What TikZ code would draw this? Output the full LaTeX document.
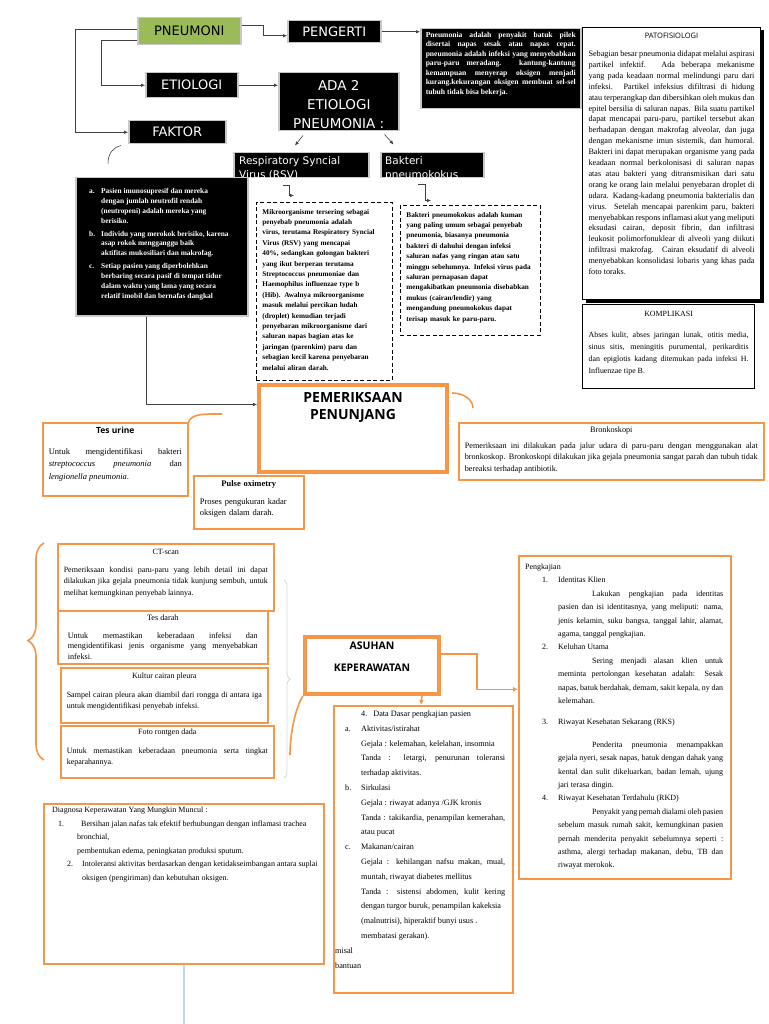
\documentclass[tikz,border=0pt]{standalone}
\usepackage{fontspec}
\setmainfont{Liberation Serif}
\newfontfamily\boxfont{DejaVu Sans}
\newfontfamily\headfont{Open Sans}
\usetikzlibrary{arrows.meta,shadows,decorations.pathreplacing}
\definecolor{leafgreen}{HTML}{9BBB59}
\definecolor{accentorange}{HTML}{F79646}
\definecolor{rimgray}{HTML}{C8C8C8}
\hyphenpenalty=10000
\exhyphenpenalty=10000
\emergencystretch=20pt

\tikzset{
  darkbox/.style={fill=black, text=white, draw=rimgray, line width=1.5pt, inner sep=0pt,
    font=\boxfont\fontsize{13}{18}\selectfont},
  orangebox/.style={draw=accentorange, line width=1.6pt, fill=white, inner sep=0pt},
  heavyorange/.style={draw=accentorange, line width=4pt, fill=white, inner sep=0pt},
  dashbox/.style={draw=black, dash pattern=on 4pt off 2.5pt, line width=0.9pt, fill=white, inner sep=0pt},
  teks/.style={inner sep=0pt, anchor=north},
  link/.style={draw=black!75, line width=0.6pt, -{Latex[length=4pt,width=3.5pt]}},
  orangelink/.style={draw=accentorange, line width=1.6pt, -{Latex[length=5pt,width=5pt]}},
  orangecurve/.style={draw=accentorange, line width=1.6pt},
}

\begin{document}
\begin{tikzpicture}[x=1pt,y=-1pt]
\useasboundingbox (0,0) rectangle (768,1024);
\fill[white] (0,0) rectangle (768,1024);

% kotak judul
\node[darkbox, fill=leafgreen, text=black, minimum width=103, minimum height=27, anchor=north west] (pneumoni) at (137,17) {PNEUMONI};
\node[darkbox, minimum width=93, minimum height=22, anchor=north west] (pengerti) at (287,20) {PENGERTI};
\node[darkbox, minimum width=92, minimum height=25, anchor=north west] (etiologi) at (145,72) {ETIOLOGI};
\node[darkbox, minimum width=97, minimum height=23, anchor=north west] (faktor) at (128,120) {FAKTOR};
\node[darkbox, minimum width=120, minimum height=58, anchor=north west] (duaetiologi) at (278,72) {};
\node[darkbox, minimum width=135, minimum height=25, anchor=north west] (rsv) at (233,152) {};
\node[darkbox, minimum width=103, minimum height=25, anchor=north west] (bakteri) at (380,152) {};
\begin{scope}
\clip (duaetiologi.south west) rectangle (duaetiologi.north east);
\node[teks, align=center, text=white, font=\boxfont\fontsize{13.5}{19}\selectfont] (duaetiologiteks) at ([yshift=-8pt]duaetiologi.north) {ADA 2\\ETIOLOGI\\PNEUMONIA :};
\end{scope}
\begin{scope}
\clip (rsv.south west) rectangle (rsv.north east);
\node[teks, anchor=north west, align=left, text=white, font=\boxfont\fontsize{10.5}{14}\selectfont] (rsvjudul) at ([xshift=6pt,yshift=-4pt]rsv.north west) {Respiratory Syncial\\Virus (RSV)};
\end{scope}
\begin{scope}
\clip (bakteri.south west) rectangle (bakteri.north east);
\node[teks, anchor=north west, align=left, text=white, font=\boxfont\fontsize{10.5}{14}\selectfont] (bakterijudul) at ([xshift=5pt,yshift=-4pt]bakteri.north west) {Bakteri\\pneumokokus};
\end{scope}

% teks hitam
\node[darkbox, minimum width=160, minimum height=80, anchor=north west] (definisi) at (420,28) {};
\node[teks, text width=150, align=justify, text=white, font=\bfseries\fontsize{7.6}{9.5}\selectfont] (definisiteks) at ([yshift=-4pt]definisi.north) {Pneumonia adalah penyakit batuk pilek disertai napas sesak atau napas cepat. pneumonia adalah infeksi yang menyebabkan paru-paru meradang. kantung-kantung kemampuan menyerap oksigen menjadi kurang.kekurangan oksigen membuat sel-sel tubuh tidak bisa bekerja.};

\node[darkbox, minimum width=172, minimum height=138, anchor=north west] (faktorteks) at (75,177) {};
\begin{scope}
\clip (faktorteks.south west) rectangle (faktorteks.north east);
\node[teks, anchor=north west, align=left, text=white, font=\bfseries\fontsize{7.4}{9.9}\selectfont] (faktorisi) at ([xshift=14pt,yshift=-11pt]faktorteks.north west) {%
  \makebox[12pt][l]{a.}Pasien imunosupresif dan mereka\\
  \hspace*{12pt}dengan jumlah neutrofil rendah\\
  \hspace*{12pt}(neutropeni) adalah mereka yang\\
  \hspace*{12pt}berisiko.\\[3pt]
  \makebox[12pt][l]{b.}Individu yang merokok berisiko, karena\\
  \hspace*{12pt}asap rokok mengganggu baik\\
  \hspace*{12pt}aktifitas mukosiliari dan makrofag.\\[3pt]
  \makebox[12pt][l]{c.}Setiap pasien yang diperbolehkan\\
  \hspace*{12pt}berbaring secara pasif di tempat tidur\\
  \hspace*{12pt}dalam waktu yang lama yang secara\\
  \hspace*{12pt}relatif imobil dan bernafas dangkal};
\end{scope}

% patofisiologi
\node[draw=black, line width=1pt, fill=white, inner sep=0pt,
  drop shadow={shadow xshift=3pt, shadow yshift=-3pt, fill=black, opacity=1},
  minimum width=178, minimum height=272, anchor=north west] (patofisiologi) at (582,27) {};
\node[teks, text width=166, align=justify, font=\fontsize{8.2}{10.9}\selectfont] (patofisiologiteks) at ([yshift=-6pt]patofisiologi.north) {\makebox[\linewidth]{\headfont\fontsize{7.5}{9}\selectfont PATOFISIOLOGI}\\[7pt]Sebagian besar pneumonia didapat melalui aspirasi partikel infektif. Ada beberapa mekanisme yang pada keadaan normal melindungi paru dari infeksi. Partikel infeksius difiltrasi di hidung atau terperangkap dan dibersihkan oleh mukus dan epitel bersilia di saluran napas. Bila suatu partikel dapat mencapai paru-paru, partikel tersebut akan berhadapan dengan makrofag alveolar, dan juga dengan mekanisme imun sistemik, dan humoral. Bakteri ini dapat merupakan organisme yang pada keadaan normal berkolonisasi di saluran napas atas atau bakteri yang ditransmisikan dari satu orang ke orang lain melalui penyebaran droplet di udara. Kadang-kadang pneumonia bakterialis dan virus. Setelah mencapai parenkim paru, bakteri menyebabkan respons inflamasi akut yang meliputi eksudasi cairan, deposit fibrin, dan infiltrasi leukosit polimorfonuklear di alveoli yang diikuti infiltrasi makrofag. Cairan eksudatif di alveoli menyebabkan konsolidasi lobaris yang khas pada foto toraks.};
\node[draw=black, line width=1.2pt, fill=white, inner sep=0pt, minimum width=172, minimum height=84, anchor=north west] (komplikasi) at (582,304) {};
\node[teks, text width=160, align=justify, font=\fontsize{7.9}{12}\selectfont] (komplikasiteks) at ([yshift=-7pt]komplikasi.north) {\makebox[\linewidth]{KOMPLIKASI}\\[9pt]Abses kulit, abses jaringan lunak, otitis media, sinus sitis, meningitis purumental, perikarditis dan epiglotis kadang ditemukan pada infeksi H. Influenzae tipe B.};

% kotak putus-putus
\node[dashbox, minimum width=136, minimum height=178, anchor=north west] (rsvkotak) at (256,202) {};
\node[teks, text width=124, align=left, font=\bfseries\fontsize{7.2}{10.4}\selectfont] (rsvisi) at ([yshift=-7pt]rsvkotak.north) {Mikroorganisme tersering sebagai\\penyebab pneumonia adalah\\virus, terutama Respiratory Syncial\\Virus (RSV) yang mencapai\\40\%, sedangkan golongan bakteri\\yang ikut berperan terutama\\Streptococcus pneumoniae dan\\Haemophilus influenzae type b\\(Hib). Awalnya mikroorganisme\\masuk melalui percikan ludah\\(droplet) kemudian terjadi\\penyebaran mikroorganisme dari\\saluran napas bagian atas ke\\jaringan (parenkim) paru dan\\sebagian kecil karena penyebaran\\melalui aliran darah.};
\node[dashbox, minimum width=140, minimum height=130, anchor=north west] (bakterikotak) at (400,205) {};
\node[teks, text width=128, align=left, font=\bfseries\fontsize{7.2}{10.4}\selectfont] (bakteriisi) at ([yshift=-7pt]bakterikotak.north) {Bakteri pneumokokus adalah kuman\\yang paling umum sebagai penyebab\\pneumonia, biasanya pneumonia\\bakteri di dahului dengan infeksi\\saluran nafas yang ringan atau satu\\minggu sebelumnya. Infeksi virus pada\\saluran pernapasan dapat\\mengakibatkan pneumonia disebabkan\\mukus (cairan/lendir) yang\\mengandung pneumokokus dapat\\terisap masuk ke paru-paru.};

% pemeriksaan penunjang
\node[heavyorange, minimum width=188, minimum height=87, anchor=north west] (pemeriksaan) at (257,383) {};
\node[teks, align=center, font=\headfont\bfseries\fontsize{14}{17}\selectfont] (pemeriksaanjudul) at ([yshift=-9pt]pemeriksaan.north) {PEMERIKSAAN\\PENUNJANG};
\node[orangebox, minimum width=145, minimum height=73, anchor=north west] (tesurine) at (42,422) {};
\node[teks, text width=133, align=justify, font=\fontsize{8.5}{12.5}\selectfont] (tesurineteks) at ([yshift=-5pt]tesurine.north) {\makebox[\linewidth]{\headfont\bfseries\fontsize{8.5}{10}\selectfont Tes urine}\\[8pt]Untuk mengidentifikasi bakteri \textit{streptococcus pneumonia} dan \textit{lengionella pneumonia}.};
\node[orangebox, minimum width=110, minimum height=53, anchor=north west] (pulse) at (193,475) {};
\node[teks, text width=98, align=left, font=\fontsize{8.5}{11}\selectfont] (pulseteks) at ([yshift=-5pt]pulse.north) {\makebox[\linewidth]{\bfseries Pulse oximetry}\\[7pt]Proses pengukuran kadar\\oksigen dalam darah.};
\node[orangebox, minimum width=305, minimum height=57, anchor=north west] (bronkoskopi) at (458,422) {};
\node[teks, text width=293, align=justify, font=\fontsize{8.2}{11.5}\selectfont] (bronkoskopiteks) at ([yshift=-5pt]bronkoskopi.north) {\makebox[\linewidth]{Bronkoskopi}\\[4pt]Pemeriksaan ini dilakukan pada jalur udara di paru-paru dengan menggunakan alat bronkoskop. Bronkoskopi dilakukan jika gejala pneumonia sangat parah dan tubuh tidak bereaksi terhadap antibiotik.};

\node[orangebox, minimum width=216, minimum height=67, anchor=north west] (ctscan) at (57,543) {};
\node[teks, text width=204, align=justify, font=\fontsize{8}{11.2}\selectfont] (ctscanteks) at ([yshift=-6pt]ctscan.north) {\makebox[\linewidth]{CT-scan}\\[7pt]Pemeriksaan kondisi paru-paru yang lebih detail ini dapat dilakukan jika gejala pneumonia tidak kunjung sembuh, untuk melihat kemungkinan penyebab lainnya.};
\node[orangebox, minimum width=210, minimum height=53, anchor=north west] (tesdarah) at (57,610) {};
\begin{scope}
\clip (tesdarah.south west) rectangle (tesdarah.north east);
\node[teks, text width=190, align=justify, font=\fontsize{8.2}{10.5}\selectfont] (tesdarahteks) at ([yshift=-5pt]tesdarah.north) {\makebox[\linewidth]{Tes darah}\\[7pt]Untuk memastikan keberadaan infeksi dan mengidentifikasi jenis organisme yang menyebabkan infeksi.};
\end{scope}
\node[orangebox, minimum width=207, minimum height=55, anchor=north west] (kultur) at (60,667) {};
\node[teks, text width=195, align=justify, font=\fontsize{8}{11}\selectfont] (kulturteks) at ([yshift=-6pt]kultur.north) {\makebox[\linewidth]{Kultur cairan pleura}\\[8pt]Sampel cairan pleura akan diambil dari rongga di antara iga untuk mengidentifikasi penyebab infeksi.};
\node[orangebox, minimum width=213, minimum height=52, anchor=north west] (rontgen) at (60,725) {};
\node[teks, text width=201, align=justify, font=\fontsize{8}{11}\selectfont] (rontgenteks) at ([yshift=-4pt]rontgen.north) {\makebox[\linewidth]{Foto rontgen dada}\\[8pt]Untuk memastikan keberadaan pneumonia serta tingkat keparahannya.};

% asuhan keperawatan
\node[heavyorange, minimum width=134, minimum height=57, anchor=north west] (asuhan) at (303,635) {};
\node[teks, align=center, font=\headfont\bfseries\fontsize{10.5}{22}\selectfont] (asuhanjudul) at ([yshift=-7pt]asuhan.north) {ASUHAN\\KEPERAWATAN};
\node[orangebox, minimum width=179, minimum height=287, anchor=north west] (datadasar) at (333,705) {};
\node[teks, anchor=north west, font=\fontsize{8.2}{14.8}\selectfont] (datadasarisi) at ([xshift=12pt,yshift=-1pt]datadasar.north west) {%
  \begin{tabular}{@{}p{13pt}@{\hspace{3pt}}p{144pt}@{}}
  \multicolumn{2}{@{\hspace{16pt}}l}{4.\hspace{6pt}Data Dasar pengkajian pasien}\\
  a. & Aktivitas/istirahat\\
  & Gejala : kelemahan, kelelahan, insomnia\\
  & Tanda : letargi, penurunan toleransi terhadap aktivitas.\\
  b. & Sirkulasi\\
  & Gejala : riwayat adanya /GJK kronis\\
  & Tanda : takikardia, penampilan kemerahan, atau pucat\\
  c. & Makanan/cairan\\
  & Gejala : kehilangan nafsu makan, mual, muntah, riwayat diabetes mellitus\\
  & Tanda : sistensi abdomen, kulit kering dengan turgor buruk, penampilan kakeksia\\
  & (malnutrisi), hiperaktif bunyi usus .\\
  & membatasi gerakan).\\
  \multicolumn{2}{@{\hspace{-10pt}}l}{misal}\\
  \multicolumn{2}{@{\hspace{-10pt}}l}{bantuan}
  \end{tabular}};
\node[orangebox, minimum width=212, minimum height=323, anchor=north west] (pengkajian) at (518,555) {};
\node[teks, anchor=north west, font=\fontsize{8}{13.4}\selectfont] (pengkajianisi) at ([xshift=7pt,yshift=-5pt]pengkajian.north west) {%
  \begin{tabular}{@{}p{28pt}@{\hspace{5pt}}p{165pt}@{}}
  \multicolumn{2}{@{}l}{Pengkajian}\\
  \hspace*{17pt}1. & Identitas Klien\\
  & \hspace*{34pt}Lakukan pengkajian pada identitas pasien dan isi identitasnya, yang meliputi: nama, jenis kelamin, suku bangsa, tanggal lahir, alamat, agama, tanggal pengkajian.\\
  \hspace*{17pt}2. & Keluhan Utama\\
  & \hspace*{34pt}Sering menjadi alasan klien untuk meminta pertolongan kesehatan adalah: Sesak napas, batuk berdahak, demam, sakit kepala, ny dan kelemahan.\\[8pt]
  \hspace*{17pt}3. & Riwayat Kesehatan Sekarang (RKS)\\[9pt]
  & \hspace*{34pt}Penderita pneumonia menampakkan gejala nyeri, sesak napas, batuk dengan dahak yang kental dan sulit dikeluarkan, badan lemah, ujung jari terasa dingin.\\
  \hspace*{17pt}4. & Riwayat Kesehatan Terdahulu (RKD)\\
  & \hspace*{34pt}Penyakit yang pernah dialami oleh pasien sebelum masuk rumah sakit, kemungkinan pasien pernah menderita penyakit sebelumnya seperti : asthma, alergi terhadap makanan, debu, TB dan riwayat merokok.
  \end{tabular}};
\node[orangebox, minimum width=280, minimum height=160, anchor=north west] (diagnosa) at (43,803) {};
\node[teks, anchor=north west, align=left, font=\fontsize{8}{13.5}\selectfont] (diagnosaisi) at ([xshift=9pt,yshift=-4pt]diagnosa.north west) {%
  Diagnosa Keperawatan Yang Mungkin Muncul :\\
  \hspace*{6pt}1.\hspace{17pt}Bersihan jalan nafas tak efektif berhubungan dengan inflamasi trachea\\
  \hspace*{25pt}bronchial,\\
  \hspace*{25pt}pembentukan edema, peningkatan produksi sputum.\\
  \hspace*{15pt}2.\hspace{9pt}Intoleransi aktivitas berdasarkan dengan ketidakseimbangan antara suplai\\
  \hspace*{30pt}oksigen (pengiriman) dan kebutuhan oksigen.};

% penghubung
\draw[link] ([yshift=6pt]pneumoni.east) -- ++(22,0) |- ([yshift=-4pt]pengerti.west);
\draw[link] (pengerti.east) -- (definisi.west |- pengerti.east);
\draw[link] ([yshift=2pt]pneumoni.west) -- ++(-62,0) |- (faktor.west);
\draw[link] ([yshift=-9pt]pneumoni.west) -- ++(-36,0) |- (etiologi.west);
\draw[link] (etiologi.east) -- (duaetiologi.west |- etiologi.east);
\draw[link] ([xshift=25pt,yshift=-4pt]duaetiologi.south west) -- ++(-8,10);
\draw[link] ([xshift=-15pt,yshift=-3pt]duaetiologi.south east) -- ++(9,10);
\draw[link] ([xshift=50pt,yshift=-7pt]rsv.south west) -- ++(6,0) -- ++(0,10) -- ++(5,0);
\draw[link] ([xshift=38pt,yshift=-6pt]bakteri.south west) -- ++(7,0) -- ++(0,16) -- ++(6,0);
\draw[black!75, line width=0.6pt] ([xshift=-20pt,yshift=-19pt]faktor.south west) .. controls +(0,-10) and +(-8,2) .. ([xshift=-7pt,yshift=-1pt]faktor.south west);
\draw[link] ([xshift=-15pt]faktorteks.south) |- ([yshift=24pt]pemeriksaan.west);

\coordinate (urinetip) at (222,414);
\coordinate (bronktip) at (473,408);
\coordinate (asuhantail) at (290,755);
\draw[orangecurve] (tesurine.north east) .. controls +(3,-9) and +(-15,0) .. (urinetip);
\draw[orangecurve] ([xshift=3pt,yshift=-10pt]pemeriksaan.north east) .. controls +(12,0) and +(0,-8) .. (bronktip);
\draw[orangecurve] (asuhan.south west) .. controls +(-8,12) and +(0,-20) .. (asuhantail);
\draw[orangelink] ([yshift=11.5pt]asuhan.east) -- ++(36,0) |- ([yshift=28pt]pengkajian.west);
\draw[orangelink] ([xshift=50pt]asuhan.south) -- ([xshift=-2.5pt]datadasar.north);

\draw[orangecurve, decorate, decoration={brace, amplitude=16pt, aspect=0.55}] (44,760) -- (44,543);
\draw[black!15, line width=0.8pt, decorate, decoration={brace, amplitude=6pt}] (284,580) -- (284,778);
\draw[cyan!25!teal!30, line width=1.5pt] (diagnosa.south) -- ++(0,61);
\end{tikzpicture}
\end{document}
